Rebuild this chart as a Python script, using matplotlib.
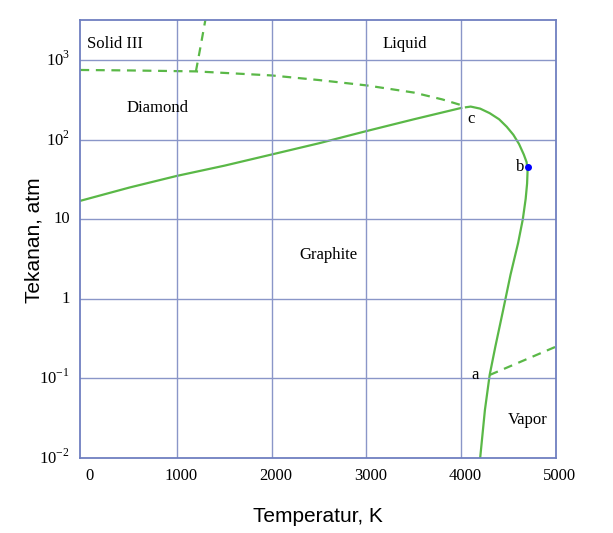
import matplotlib
matplotlib.use("Agg")
import matplotlib.pyplot as plt
import numpy as np

green = "#5ab847"
gridc = "#8a96c8"

# diamond-graphite boundary
dg_T = [-20, 500, 1000, 1500, 2000, 2500, 3000, 3500, 4000]
dg_P = [17, 25, 35, 47, 65, 90, 128, 180, 250]
# diamond-liquid (dashed)
dl_T = [-20, 500, 1200, 2000, 2500, 3000, 3500, 3800, 4050]
dl_P = [750, 740, 720, 640, 560, 480, 390, 320, 260]
# solid III boundary (dashed)
s3_T = [1200, 1250, 1300]
s3_P = [720, 1500, 3200]
# graphite-liquid / graphite-vapor (solid)
gl_T = [4050, 4100, 4200, 4300, 4400, 4480, 4550, 4610, 4660, 4690, 4700, 4695, 4680, 4650, 4600, 4520, 4440, 4360, 4300, 4250, 4200]
gl_P = [255, 260, 245, 215, 180, 145, 115, 88, 65, 52, 40, 28, 18, 10, 5, 2, 0.7, 0.25, 0.11, 0.04, 0.01]
# liquid-vapor (dashed)
lv_T = [4300, 5000]
lv_P = [0.11, 0.25]

plt.rcParams["mathtext.fontset"] = "custom"
plt.rcParams["mathtext.rm"] = "Liberation Serif"

fig = plt.figure(figsize=(6.13, 5.33), dpi=100)
ax = fig.add_axes([0.131, 0.141, 0.776, 0.821])
ax.set_yscale("log")
ax.set_xlim(-20, 5000)
ax.set_ylim(1e-2, 10**3.5)

ax.plot(dg_T, dg_P, color=green, lw=1.6)
ax.plot(dl_T, dl_P, color=green, lw=1.6, ls=(0, (4, 3)))
ax.plot(s3_T, s3_P, color=green, lw=1.6, ls=(0, (4, 3)))
ax.plot(gl_T, gl_P, color=green, lw=1.6)
ax.plot(lv_T, lv_P, color=green, lw=1.6, ls=(0, (4, 3)))
ax.plot([4700], [45], "o", color="blue", ms=4)

for v in [1000, 2000, 3000, 4000]:
    ax.axvline(v, color=gridc, lw=1)
for v in [1e-1, 1, 10, 100, 1000]:
    ax.axhline(v, color=gridc, lw=1)
for s in ax.spines.values():
    s.set_color("#6f7fc0")
    s.set_linewidth(1.3)

serif = "Liberation Serif"
ax.set_xticks([])
ax.set_yticks([])
ax.minorticks_off()
xt = [0, 1000, 2000, 3000, 4000, 5000]
for v in xt:
    ax.text(v + (80 if v == 0 else 40), 0.0075, str(v), ha="center", va="top", family=serif, fontsize=12)
yt = [1e-2, 1e-1, 1, 10, 100, 1000]
ylab = ["10$^{-2}$", "10$^{-1}$", "1", "10", "10$^{2}$", "10$^{3}$"]
for v, l in zip(yt, ylab):
    ax.text(-130, v, l, ha="right", va="center", family=serif, fontsize=12)

for t, x, y in [("Solid III", 350, 1600), ("Liquid", 3400, 1600), ("Diamond", 800, 250),
                ("Graphite", 2600, 3.5), ("Vapor", 4700, 0.03)]:
    ax.text(x, y, t, ha="center", va="center", family=serif, fontsize=12)
ax.text(4100, 180, "c", family=serif, fontsize=12, ha="center", va="center")
ax.text(4620, 45, "b", family=serif, fontsize=12, ha="center", va="center")
ax.text(4150, 0.11, "a", family=serif, fontsize=12, ha="center", va="center")

fig.text(0.055, 0.55, "Tekanan, atm", rotation=90,
         ha="center", va="center", family="Liberation Sans", fontsize=15)
ax.text(0.5, -0.135, "Temperatur, K", transform=ax.transAxes,
        ha="center", va="center", family="Liberation Sans", fontsize=15)

fig.savefig("out.png", dpi=100)
